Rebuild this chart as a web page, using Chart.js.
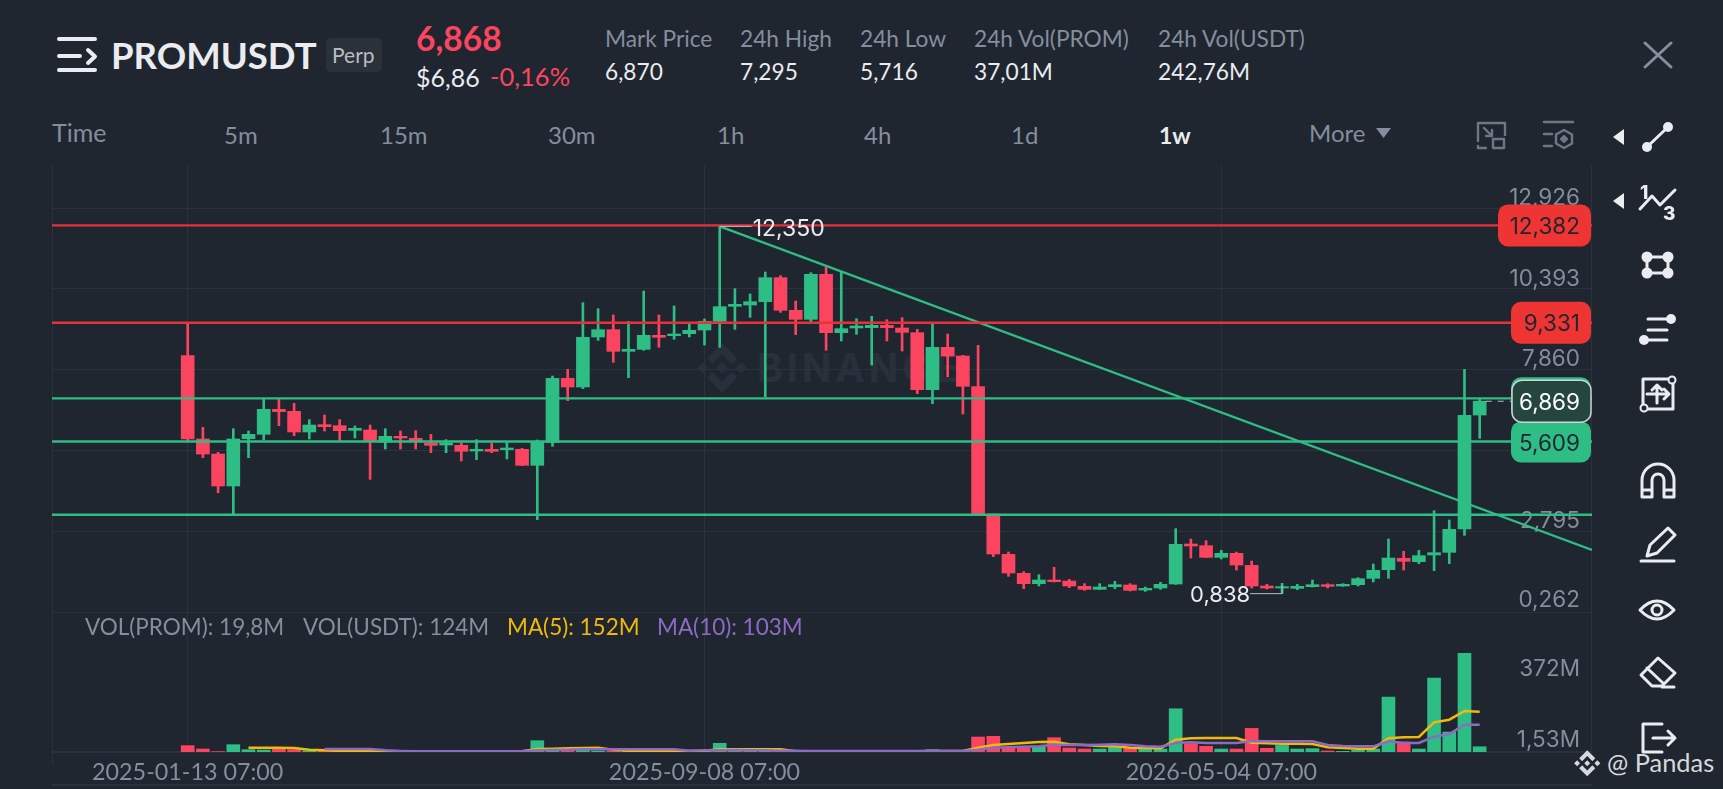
<!DOCTYPE html>
<html>
<head>
<meta charset="utf-8">
<script src="https://cdn.jsdelivr.net/npm/chart.js@4"></script>
<style>
  html, body { margin: 0; padding: 0; background: #1f2630; overflow: hidden; }
  body { width: 1723px; height: 789px; position: relative; font-family: Lato, sans-serif; }
  canvas, svg, .rule, .t { position: absolute; }
  .t { white-space: nowrap; transform: translateY(-50%); line-height: 1; }
  .gray { color: #848e9c; font-size: 22.7px; }
  .val { color: #eaecef; font-size: 22.7px; }
  .tab { color: #848e9c; font-size: 24px; }
  .leg { font-size: 22.5px; }
  .rule { background: #2b323d; }
  #mark { left: 757px; top: 367px; font: bold 39px Inter, sans-serif; letter-spacing: 4px; color: #29303b; }
</style>
</head>
<body>
<!-- header -->
<span class="t" style="left:111px;top:55px;font-size:36.5px;font-weight:700;color:#eaecef">PROMUSDT</span>
<div style="position:absolute;left:326px;top:38px;width:56px;height:34px;background:#2b3139;border-radius:5px"></div>
<span class="t" style="left:332px;top:54px;font-size:21px;color:#b7bdc6">Perp</span>
<span class="t" style="left:416px;top:39px;font-size:33.5px;font-weight:700;color:#fb4560">6,868</span>
<span class="t" style="left:416px;top:77px;font-size:25px;color:#eaecef">$6,86</span>
<span class="t" style="left:490px;top:77px;font-size:25.500px;color:#fb4560">-0,16%</span>
<span class="t gray" style="left:605px;top:39px">Mark Price</span>
<span class="t val" style="left:605px;top:72px">6,870</span>
<span class="t gray" style="left:740px;top:39px">24h High</span>
<span class="t val" style="left:740px;top:72px">7,295</span>
<span class="t gray" style="left:860px;top:39px">24h Low</span>
<span class="t val" style="left:860px;top:72px">5,716</span>
<span class="t gray" style="left:974px;top:39px">24h Vol(PROM)</span>
<span class="t val" style="left:974px;top:72px">37,01M</span>
<span class="t gray" style="left:1158px;top:39px">24h Vol(USDT)</span>
<span class="t val" style="left:1158px;top:72px">242,76M</span>
<!-- interval row -->
<span class="t tab" style="left:52px;top:132px;font-size:25px">Time</span>
<span class="t tab" style="left:224px;top:135px">5m</span>
<span class="t tab" style="left:380px;top:135px">15m</span>
<span class="t tab" style="left:548px;top:135px">30m</span>
<span class="t tab" style="left:717px;top:135px">1h</span>
<span class="t tab" style="left:864px;top:135px">4h</span>
<span class="t tab" style="left:1011px;top:135px">1d</span>
<span class="t" style="left:1159px;top:135px;font-size:23px;font-weight:700;color:#eaecef">1w</span>
<span class="t tab" style="left:1309px;top:133px">More</span>
<!-- watermark sits under the charts -->
<svg style="left:697px;top:343px" width="50" height="50" viewBox="0 0 126 126" fill="#29303b">
  <path d="M38.7 53.2 63 28.9 87.3 53.2 101.4 39.1 63 .7 24.6 39.1zM.7 63 14.8 48.9 28.9 63 14.8 77.1zM38.7 72.8 63 97.1 87.3 72.8 101.4 86.9 63 125.3 24.6 86.9zM63 48.7 77.3 63 63 77.3 48.7 63zM97.1 63 111.2 48.9 125.3 63 111.2 77.1z"/>
</svg>
<span class="t" id="mark">BINANCE</span>
<!-- pane frame -->
<div class="rule" style="left:52px;top:165px;width:1px;height:600px"></div>
<div class="rule" style="left:1591px;top:165px;width:1px;height:587px"></div>
<div class="rule" style="left:52px;top:751px;width:1540px;height:2px"></div>
<div class="rule" style="left:52px;top:784px;width:1540px;height:2px"></div>
<canvas id="priceChart" width="1540" height="448" style="left:52px;top:165px;width:1540px;height:448px"></canvas>
<canvas id="volChart" width="1540" height="172" style="left:52px;top:613px;width:1540px;height:172px"></canvas>
<!-- volume legend -->
<span class="t leg" style="left:85px;top:627px;color:#848e9c">VOL(PROM): 19,8M</span>
<span class="t leg" style="left:303px;top:627px;color:#848e9c">VOL(USDT): 124M</span>
<span class="t leg" style="left:507px;top:627px;color:#f0b90b">MA(5): 152M</span>
<span class="t leg" style="left:657px;top:627px;color:#8d6bc4">MA(10): 103M</span>
<span class="t" style="left:1607px;top:763px;font-size:25.4px;color:#d5d8dc">@ Pandas</span>
<!-- toolbar icons -->
<svg style="left:0;top:0" width="1723" height="789" fill="none" stroke-linecap="round" stroke-linejoin="round">
  <g stroke="#eaecef" stroke-width="4">
    <path d="M59 39H95M59 56H80M88 50 95 56.5 88 63M59 70H95"/>
  </g>
  <path d="M1645 43 1671 67M1671 43 1645 67" stroke="#848e9c" stroke-width="3"/>
  <path d="M1376 128H1391L1383.5 138Z" fill="#848e9c"/>
  <g stroke="#6f7784" stroke-width="2.4">
    <path d="M1478 141V123H1505V135M1478 146V148H1486M1484 128 1492 136M1492 130V136H1486"/>
    <rect x="1493" y="139" width="11" height="9"/>
    <path d="M1544 122H1573M1544 134H1552M1544 146H1552M1564 130 1572 134.500V143.500L1564 148 1556 143.500V134.500Z"/>
    <path d="M1564 136 1567 139 1564 142 1561 139Z" fill="#6f7784"/>
  </g>
  <path d="M1624 129V145L1613 137ZM1624 193V209L1613 201Z" fill="#eaecef"/>
  <g stroke="#eaecef" stroke-width="3" fill="none">
    <path d="M1647 147 1668 127"/>
    <path d="M1640 209 1652 196 1660 205 1675 190"/>
    <path d="M1647 257H1668V273H1647Z"/>
    <path d="M1648 319H1668M1648 330H1667M1647 340H1667"/>
    <rect x="1643" y="379" width="30" height="30"/>
    <path d="M1647 394H1669M1664 389 1669 394 1664 399M1657 403V385M1652 390 1657 385 1662 390"/>
    <path d="M1642 497V480A16 16 0 0 1 1674 480V497H1664V480A6 6 0 0 0 1652 480V497ZM1642 490H1652M1664 490H1674"/>
    <path d="M1647 556 1650 545 1668 528 1675 535 1657 553ZM1641 561H1674"/>
    <path d="M1640 610Q1657 592 1674 610 1657 628 1640 610Z"/>
    <circle cx="1657" cy="610" r="5"/>
    <path d="M1658 658 1675 673 1662 686H1652L1641 675ZM1647 668 1664 684M1662 687H1674"/>
    <path d="M1662 724H1643V752H1662M1653 738H1675M1668 731 1675 738 1668 745"/>
  </g>
  <g fill="#eaecef">
    <circle cx="1647" cy="147" r="5"/><circle cx="1668" cy="127" r="5"/>
    <circle cx="1647" cy="257" r="5.500"/><circle cx="1668" cy="257" r="5.500"/>
    <circle cx="1647" cy="273" r="5.500"/><circle cx="1668" cy="273" r="5.500"/>
    <circle cx="1671" cy="319" r="5"/><circle cx="1644" cy="340" r="5"/>
    <text x="1640" y="199" font-family="Inter" font-weight="800" font-size="19">1</text>
    <text x="1663" y="220" font-family="Inter" font-weight="800" font-size="19">3</text>
  </g>
  <g fill="#1f2630" stroke="#eaecef" stroke-width="2">
    <circle cx="1672" cy="380" r="3.500"/><circle cx="1644" cy="408" r="3.500"/>
  </g>
  <g transform="translate(1574 750) scale(.21)" fill="#d5d8dc">
    <path d="M38.7 53.2 63 28.9 87.3 53.2 101.4 39.1 63 .7 24.6 39.1zM.7 63 14.8 48.9 28.9 63 14.8 77.1zM38.7 72.8 63 97.1 87.3 72.8 101.4 86.9 63 125.3 24.6 86.9zM63 48.7 77.3 63 63 77.3 48.7 63zM97.1 63 111.2 48.9 125.3 63 111.2 77.1z"/>
  </g>
</svg>

<script>
// weekly candles, prices
const opens = [
  8.298, 5.686, 5.215, 4.212, 5.696, 5.832, 6.615, 6.553, 5.905, 6.135,
  6.103, 5.957, 5.968, 5.592, 5.769, 5.706, 5.560, 5.497, 5.487, 5.309,
  5.362, 5.351, 5.362, 4.860, 5.581, 7.587, 7.316, 8.883, 9.113, 8.434,
  8.496, 8.935, 8.925, 8.987, 9.102, 9.374, 9.844, 9.886, 9.990, 10.743,
  9.719, 9.437, 10.847, 9.019, 9.165, 9.176, 9.249, 9.165, 9.019, 7.232,
  8.559, 8.287, 7.326, 3.335, 2.069, 1.474, 1.150, 1.265, 1.233, 1.066,
  0.972, 1.056, 1.108, 0.951, 1.014, 1.139, 2.393, 2.341, 1.975, 2.101,
  1.724, 1.077, 1.014, 1.003, 1.056, 1.118, 1.077, 1.118, 1.317, 1.589,
  1.944, 1.839, 2.049, 2.132, 2.864, 6.437
];
const highs = [
  9.311, 6.051, 5.268, 6.009, 5.936, 6.960, 6.929, 6.804, 6.292, 6.438,
  6.292, 6.093, 6.124, 6.009, 5.936, 5.947, 5.832, 5.665, 5.560, 5.665,
  5.560, 5.592, 5.393, 5.654, 7.660, 7.869, 9.959, 9.771, 9.573, 9.374,
  10.325, 9.573, 9.855, 9.311, 9.447, 12.350, 10.398, 10.231, 10.920, 10.806,
  10.011, 10.900, 11.067, 10.920, 9.458, 9.531, 9.426, 9.489, 9.123, 9.280,
  8.977, 8.308, 8.622, 3.335, 2.142, 1.526, 1.432, 1.662, 1.286, 1.150,
  1.150, 1.223, 1.150, 1.045, 1.192, 2.874, 2.550, 2.498, 2.195, 2.142,
  1.860, 1.129, 1.160, 1.129, 1.265, 1.150, 1.150, 1.338, 1.766, 2.550,
  2.163, 2.195, 3.438, 3.146, 7.869, 6.929
];
const lows = [
  5.623, 5.100, 4.003, 3.314, 5.100, 5.654, 6.103, 5.790, 5.686, 5.936,
  5.623, 5.717, 4.421, 5.372, 5.372, 5.372, 5.257, 5.257, 4.996, 5.038,
  5.257, 5.059, 4.850, 3.157, 5.456, 6.887, 7.263, 8.778, 8.089, 7.608,
  8.465, 8.559, 8.810, 8.883, 8.632, 8.559, 9.123, 9.499, 7.002, 9.656,
  8.956, 9.343, 8.465, 8.758, 8.967, 8.005, 8.758, 8.444, 7.107, 6.793,
  7.639, 6.469, 3.335, 1.996, 1.380, 0.993, 1.077, 1.202, 1.024, 0.941,
  0.962, 0.993, 0.920, 0.909, 0.972, 1.129, 1.954, 1.965, 1.923, 1.578,
  1.014, 0.983, 0.838, 0.962, 1.045, 1.014, 1.066, 1.077, 1.202, 1.317,
  1.578, 1.777, 1.557, 1.777, 2.665, 5.706
];
const closes = [
  5.686, 5.215, 4.212, 5.686, 5.832, 6.615, 6.542, 5.905, 6.124, 6.072,
  5.947, 6.020, 5.623, 5.769, 5.717, 5.623, 5.487, 5.560, 5.299, 5.362,
  5.299, 5.403, 4.860, 5.592, 7.587, 7.316, 8.872, 9.113, 8.434, 8.496,
  8.935, 8.872, 8.977, 9.092, 9.374, 9.834, 9.907, 9.990, 10.743, 9.719,
  9.437, 10.847, 9.019, 9.144, 9.228, 9.249, 9.176, 9.029, 7.232, 8.559,
  8.287, 7.337, 3.345, 2.080, 1.484, 1.150, 1.265, 1.213, 1.077, 0.972,
  1.045, 1.118, 0.941, 1.003, 1.129, 2.383, 2.331, 1.975, 2.101, 1.735,
  1.077, 1.014, 1.056, 1.066, 1.118, 1.066, 1.129, 1.307, 1.568, 1.954,
  1.850, 2.028, 2.122, 2.853, 6.427, 6.869
];
// volume in millions
const volumes = [
  23.9, 11.3, 1.5, 27.6, 8.8, 7.5, 11.3, 8.8, 5, 3.8,
  3.8, 2.5, 5, 3.8, 2.5, 2.5, 2.5, 2.5, 2.5, 1.9,
  1.9, 2.5, 3.8, 42.7, 8.8, 5, 8.8, 3.8, 2.5, 3.8,
  6.3, 2.5, 3.8, 2.5, 3.8, 32.7, 5, 3.8, 3.8, 2.5,
  2.5, 2.5, 3.8, 2.5, 2.5, 2.5, 2.5, 2.5, 3.8, 8.8,
  3.8, 5, 56.5, 59, 13.8, 16.3, 18.8, 54, 15, 11.3,
  11.3, 18.8, 12.6, 11.3, 11.3, 163, 31.4, 21.4, 11.3, 11.3,
  89, 13.8, 25, 11.3, 12.6, 3.8, 2.5, 6.3, 11.3, 207,
  37.7, 11.3, 279, 75, 372, 19.8
];
const ma5 = [
  null, null, null, null, 16.3, 16.3, 16.3, 15.1, 8.8, 6.3,
  3.8, 2.5, 2.5, 2.5, 2.5, 2.5, 2.5, 2.5, 2.5, 2.5,
  2.5, 2.5, 2.5, 11.3, 12.6, 13.8, 15.1, 16.3, 8.8, 5,
  5, 3.8, 3.8, 3.8, 5, 10, 10, 10, 10, 10,
  2.5, 2.5, 2.5, 2.5, 2.5, 2.5, 2.5, 2.5, 2.5, 3.8,
  3.8, 3.8, 16.3, 26.4, 30.1, 33.9, 37.7, 38.9, 28.9, 26.4,
  22.6, 21.4, 16.3, 15.1, 13.8, 46.5, 51.5, 52.8, 52.8, 52.8,
  35.2, 32.7, 31.4, 31.4, 30.1, 17.6, 15.1, 12.6, 12.6, 51.5,
  55.3, 56.5, 111.8, 121.8, 154.5, 152
];
const ma10 = [
  null, null, null, null, null, null, null, null, null, 11.3,
  11.3, 11.3, 11.3, 6.3, 3.8, 2.5, 2.5, 2.5, 2.5, 2.5,
  2.5, 2.5, 2.5, 6.3, 7.5, 8.8, 10, 10, 10, 10,
  10, 10, 10, 5, 6.3, 6.3, 7.5, 6.3, 6.3, 5,
  5, 3.8, 3.8, 3.8, 3.8, 3.8, 3.8, 3.8, 3.8, 3.8,
  3.8, 3.8, 8.8, 16.3, 17.6, 20.1, 21.4, 27.6, 26.4, 26.4,
  27.6, 28.9, 26.4, 21.4, 20.1, 33.9, 36.4, 33.9, 33.9, 33.9,
  41.4, 40.2, 40.2, 40.2, 40.2, 26.4, 22.6, 21.4, 21.4, 40.2,
  33.9, 33.9, 57.8, 67.8, 103, 103
];

const dateLabels = ['2025-01-13 07:00', '2025-09-08 07:00', '2026-05-04 07:00'];
const dateWeeks = [0, 34, 68];
const priceTicks = [0.262, 2.795, 5.327, 7.860, 10.393, 12.926];
const volTicks = [1.53, 372];
const redLevels = [12.382, 9.331];
const greenLevels = [6.96, 5.609, 3.31];
const trendWeeks = [35, 92.39];
const trendPrices = [12.35, 2.206];
const lastPrice = 6.869;

const GREEN = '#2ebd85', RED = '#fb4560', LINE_RED = '#e8323a', GRID = '#2b323d';
const LABEL_FONT = '22.5px Inter';
const weekMin = -8.928, weekMax = 92.39;

Chart.defaults.font.family = 'Lato';
Chart.defaults.animation = false;
Chart.defaults.devicePixelRatio = 1;

const comma = (v, d) => v.toFixed(d).replace('.', ',');
const isUp = i => closes[i] >= opens[i];
const barColors = opens.map((_, i) => (isUp(i) ? GREEN : RED));

function xScale(showLabels) {
  return {
    type: 'linear', min: weekMin, max: weekMax, offset: false,
    afterBuildTicks: s => { s.ticks = dateWeeks.map(value => ({ value })); },
    afterFit: s => {
      s.paddingLeft = 0;
      s.paddingRight = 0;
      if (showLabels) s.height = 33;
    },
    grid: { color: GRID, offset: false, drawTicks: false },
    border: { display: false },
    ticks: {
      display: showLabels, autoSkip: false, maxRotation: 0, padding: 6,
      color: '#848e9c', font: { size: 23.3 },
      callback: v => dateLabels[dateWeeks.indexOf(v)]
    }
  };
}

function hLine(y, color) {
  return {
    type: 'line', order: 1, borderColor: color, borderWidth: 2.4, pointRadius: 0,
    data: [{ x: weekMin, y }, { x: weekMax, y }]
  };
}

function drawPill(ctx, left, top, bottom, fill, text, color, stroke) {
  ctx.save();
  ctx.beginPath();
  ctx.roundRect(left, top, 1539 - left, bottom - top, 10);
  ctx.fillStyle = fill;
  ctx.fill();
  if (stroke) { ctx.strokeStyle = stroke; ctx.lineWidth = 1.5; ctx.stroke(); }
  ctx.fillStyle = color;
  ctx.font = LABEL_FONT;
  ctx.textAlign = 'right';
  ctx.textBaseline = 'middle';
  ctx.fillText(text, 1528, (top + bottom) / 2 + 2);
  ctx.restore();
}

// axis labels sit just above their gridline, inside the plot
const priceLabels = {
  id: 'priceLabels',
  beforeDatasetsDraw(chart) {
    const { ctx, scales: { y } } = chart;
    ctx.save();
    ctx.font = LABEL_FONT;
    ctx.fillStyle = '#848e9c';
    ctx.textAlign = 'right';
    ctx.textBaseline = 'middle';
    priceTicks.forEach((v, i) => ctx.fillText(comma(v, 3), 1528, y.getPixelForValue(v) - (i ? 10 : 12)));
    ctx.restore();
  },
  afterDatasetsDraw(chart) {
    const { ctx, scales: { x, y } } = chart;
    redLevels.forEach((v, i) => {
      const c = y.getPixelForValue(v);
      drawPill(ctx, i ? 1459 : 1446, c - 21, c + 21, '#ef3434', comma(v, 3), '#1f2630');
    });
    let c = y.getPixelForValue(greenLevels[0]);
    drawPill(ctx, 1459, c - 21, c + 21, GREEN, comma(greenLevels[0], 3), '#1f2630');
    c = y.getPixelForValue(greenLevels[1]);
    drawPill(ctx, 1459, c - 20, c + 21, GREEN, comma(greenLevels[1], 3), '#1f2630');
    c = y.getPixelForValue(lastPrice);
    drawPill(ctx, 1460, c - 21, c + 21, '#24463f', comma(lastPrice, 3), '#ffffff', '#cfd3d6');

    // high and low callouts
    ctx.save();
    ctx.strokeStyle = '#b9bdc3';
    ctx.lineWidth = 1;
    ctx.fillStyle = '#eaecef';
    ctx.textBaseline = 'middle';
    const hi = highs.indexOf(Math.max(...highs));
    const lo = lows.indexOf(Math.min(...lows));
    const hx = x.getPixelForValue(hi), hy = y.getPixelForValue(highs[hi]);
    ctx.beginPath(); ctx.moveTo(hx, hy); ctx.lineTo(hx + 32, hy); ctx.stroke();
    ctx.font = '23px Inter';
    ctx.textAlign = 'left';
    ctx.fillText(comma(highs[hi], 3), hx + 33, hy + 3);
    const lx = x.getPixelForValue(lo), ly = y.getPixelForValue(lows[lo]);
    ctx.beginPath(); ctx.moveTo(lx, ly - 8); ctx.lineTo(lx, ly); ctx.lineTo(lx - 32, ly); ctx.stroke();
    ctx.font = '22px Inter';
    ctx.textAlign = 'right';
    ctx.fillText(comma(lows[lo], 3), lx - 32, ly + 2);
    ctx.restore();
  }
};

new Chart(document.getElementById('priceChart'), {
  type: 'bar',
  plugins: [priceLabels],
  data: {
    datasets: [
      ...redLevels.map(v => hLine(v, LINE_RED)),
      ...greenLevels.map(v => hLine(v, GREEN)),
      {
        type: 'line', order: 1, borderColor: GREEN, borderWidth: 2.4, pointRadius: 0,
        data: trendWeeks.map((x, i) => ({ x, y: trendPrices[i] }))
      },
      {
        type: 'line', order: 1, borderColor: 'rgba(225,228,232,0.8)', borderWidth: 1, borderDash: [6, 6], pointRadius: 0,
        data: [{ x: 85.4, y: lastPrice }, { x: 87.1, y: lastPrice }]
      },
      {
        order: 2, barThickness: 13, grouped: false, backgroundColor: barColors,
        data: opens.map((o, i) => ({ x: i, y: [o, closes[i]] }))
      },
      {
        order: 3, barThickness: 2, grouped: false, backgroundColor: barColors,
        data: opens.map((_, i) => ({ x: i, y: [lows[i], highs[i]] }))
      }
    ]
  },
  options: {
    responsive: false,
    layout: { padding: 0 },
    plugins: { legend: { display: false }, tooltip: { enabled: false } },
    scales: {
      x: xScale(false),
      y: {
        position: 'right', min: 0.2307, max: 14.275,
        afterBuildTicks: s => { s.ticks = priceTicks.map(value => ({ value })); },
        grid: { color: GRID, drawTicks: false },
        border: { display: false },
        ticks: { display: false }
      }
    }
  }
});

const volLabels = {
  id: 'volLabels',
  afterDatasetsDraw(chart) {
    const { ctx, scales: { y } } = chart;
    ctx.save();
    ctx.font = LABEL_FONT;
    ctx.fillStyle = '#848e9c';
    ctx.textAlign = 'right';
    ctx.textBaseline = 'middle';
    ctx.fillText(comma(volTicks[0], 2) + 'M', 1528, y.getPixelForValue(volTicks[0]) - 11);
    ctx.fillText(volTicks[1] + 'M', 1528, y.getPixelForValue(volTicks[1]) + 16);
    ctx.restore();
  }
};

new Chart(document.getElementById('volChart'), {
  type: 'bar',
  plugins: [volLabels],
  data: {
    datasets: [
      {
        type: 'line', order: 1, borderColor: '#f0b90b', borderWidth: 2.5, pointRadius: 0,
        data: ma5.map((y, x) => ({ x, y }))
      },
      {
        type: 'line', order: 0, borderColor: '#8d6bc4', borderWidth: 2.5, pointRadius: 0,
        data: ma10.map((y, x) => ({ x, y }))
      },
      {
        order: 2, barThickness: 13, grouped: false, backgroundColor: barColors,
        data: volumes.map((y, x) => ({ x, y }))
      }
    ]
  },
  options: {
    responsive: false,
    layout: { padding: 0 },
    plugins: { legend: { display: false }, tooltip: { enabled: false } },
    scales: {
      x: xScale(true),
      y: {
        position: 'right', min: 0, max: 524,
        grid: { display: false, drawTicks: false },
        border: { display: false },
        ticks: { display: false }
      }
    }
  }
});
</script>
</body>
</html>
